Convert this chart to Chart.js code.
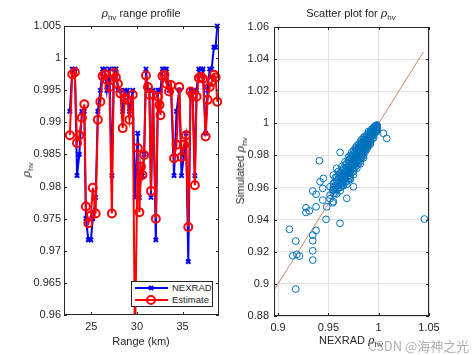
<!DOCTYPE html>
<html><head><meta charset="utf-8">
<script src="https://cdn.jsdelivr.net/npm/chart.js@4.4.1/dist/chart.umd.min.js"></script>
<style>
html,body{margin:0;padding:0;background:#fff;}
#wrap{position:relative;width:474px;height:355px;overflow:hidden;font-family:"Liberation Sans",Arial,sans-serif;color:#262626;}
.cv{position:absolute;top:0;width:237px;height:355px;}
.lbl{position:absolute;font-size:11px;white-space:nowrap;line-height:12px;}
.c{transform:translate(-50%,-50%);}
.r{transform:translate(-50%,-50%) rotate(-90deg);}
.g{font-style:italic;font-family:"DejaVu Serif","Liberation Serif",serif;}
sub{font-size:8px;vertical-align:baseline;position:relative;top:3px;}
#legend{position:absolute;left:131px;top:281px;width:80px;height:24px;border:1px solid #262626;background:#fff;}
#legend .lbl{font-size:9.5px;}
#wm{position:absolute;left:368px;top:336px;font-size:13px;color:rgba(160,160,160,0.85);font-family:"Noto Sans CJK SC","Liberation Sans",sans-serif;white-space:nowrap;}
</style></head>
<body>
<div id="wrap">
  <canvas id="c1" class="cv" style="left:0" width="237" height="355"></canvas>
  <canvas id="c2" class="cv" style="left:237px" width="237" height="355"></canvas>

  <div class="lbl c" style="left:141px;top:14px;"><span class="g">ρ</span><sub>hv</sub> range profile</div>
  <div class="lbl c" style="left:351px;top:14px;">Scatter plot for <span class="g">ρ</span><sub>hv</sub></div>
  <div class="lbl r" style="left:27px;top:170px;"><span class="g">ρ</span><sub>hv</sub></div>
  <div class="lbl r" style="left:241px;top:171px;">Simulated <span class="g">ρ</span><sub>hv</sub></div>
  <div class="lbl c" style="left:141px;top:341px;">Range (km)</div>
  <div class="lbl c" style="left:351px;top:341px;">NEXRAD <span class="g">ρ</span><sub>hv</sub></div>

  <div id="legend">
    <svg width="40" height="24" style="position:absolute;left:2px;top:0;">
      <line x1="1" y1="6" x2="34" y2="6" stroke="#0000FF" stroke-width="2"/>
      <path d="M15 4 L19 8 M19 4 L15 8" stroke="#0000FF" stroke-width="2"/>
      <line x1="1" y1="18" x2="34" y2="18" stroke="#FF0000" stroke-width="2"/>
      <circle cx="17" cy="18" r="4" fill="none" stroke="#FF0000" stroke-width="2"/>
    </svg>
    <div class="lbl" style="left:40px;top:0px;">NEXRAD</div>
    <div class="lbl" style="left:40px;top:12px;">Estimate</div>
  </div>
  <div id="wm">CSDN @海神之光</div>
</div>
<script>
// ---------- Range profile data ----------
const rangeKm = [22.64,22.91,23.19,23.43,23.68,23.96,24.23,24.40,24.67,24.95,25.16,25.47,25.71,25.99,26.24,26.48,26.70,26.98,27.25,27.47,27.69,27.91,28.19,28.44,28.68,28.96,29.18,29.54,29.78,30.09,30.27,30.44,30.60,30.79,30.99,31.21,31.37,31.54,31.76,32.07,32.31,32.47,32.58,32.80,33.02,33.24,33.52,33.74,34.07,34.34,34.64,34.89,35.16,35.38,35.63,35.88,36.10,36.35,36.54,36.79,37.03,37.25,37.53,37.75,37.97,38.19,38.44,38.63,38.81];
const nexradRho = [0.9917,0.9983,0.9983,0.9817,0.9850,0.9917,0.9917,0.9750,0.9717,0.9717,0.9750,0.9783,0.9917,0.9950,0.9983,0.9983,0.9950,0.9983,0.9817,0.9983,0.9983,0.9950,0.9950,0.9917,0.9950,0.9950,0.9917,0.9950,0.9783,0.9883,0.9783,0.9817,0.9817,0.9850,0.9983,0.9950,0.9950,0.9783,0.9950,0.9717,0.9950,0.9950,0.9950,0.9983,0.9983,0.9983,0.9950,0.9950,0.9817,0.9917,0.9950,0.9817,0.9850,0.9883,0.9683,0.9950,0.9950,0.9817,0.9950,0.9983,0.9983,0.9983,0.9883,0.9950,0.9983,0.9983,1.0017,1.0017,1.0050];
const estimateRho = [0.9880,0.9975,0.9978,0.9868,0.9880,0.9907,0.9928,0.9769,0.9743,0.9755,0.9798,0.9758,0.9904,0.9932,0.9972,0.9975,0.9966,0.9955,0.9758,0.9977,0.9970,0.9960,0.9945,0.9891,0.9938,0.9935,0.9904,0.9943,0.9550,0.9860,0.9760,0.9831,0.9818,0.9849,0.9973,0.9955,0.9943,0.9793,0.9943,0.9750,0.9940,0.9927,0.9911,0.9972,0.9974,0.9960,0.9948,0.9958,0.9844,0.9865,0.9955,0.9846,0.9865,0.9880,0.9737,0.9948,0.9943,0.9802,0.9940,0.9969,0.9971,0.9968,0.9878,0.9935,0.9955,0.9963,0.9974,0.9970,0.9932];
const profileXTicks = [25,30,35];
const profileYTicks = [0.96,0.965,0.97,0.975,0.98,0.985,0.99,0.995,1,1.005];

// ---------- Scatter data (NEXRAD rho_hv vs simulated rho_hv) ----------
const scatterNexrad = [
0.9983,0.9983,0.9983,0.9983,0.9983,0.9983,0.9983,0.9983,0.9983,
0.995,0.995,0.995,0.995,0.995,0.995,0.995,0.995,0.995,0.995,0.995,0.995,
0.9917,0.9917,0.9917,0.9917,0.9917,0.9917,0.9917,0.9917,0.9917,0.9917,0.9917,0.9917,0.9917,
0.9883,0.9883,0.9883,0.9883,0.9883,0.9883,0.9883,0.9883,0.9883,0.9883,0.9883,
0.985,0.985,0.985,0.985,0.985,0.985,0.985,0.985,0.985,0.985,0.985,0.985,0.985,
0.9817,0.9817,0.9817,0.9817,0.9817,0.9817,0.9817,0.9817,0.9817,0.9817,0.9817,0.9817,
0.9783,0.9783,0.9783,0.9783,0.9783,0.9783,0.9783,0.9783,0.9783,0.9783,0.9783,
0.975,0.975,0.975,0.975,0.975,0.975,0.975,0.975,0.975,0.975,0.975,
0.9717,0.9717,0.9717,0.9717,0.9717,0.9717,0.9717,0.9717,0.9717,0.9717,
0.9683,0.9683,0.9683,0.9683,0.9683,0.9683,0.9683,0.9683,
0.965,0.965,0.965,0.965,0.965,0.965,0.965,
0.9617,0.9617,0.9617,0.9617,0.9617,0.9617,0.9617,
0.9583,0.9583,0.9583,0.9583,0.9583,0.9583,
0.955,0.955,0.955,0.955,0.955,0.955,
0.9517,0.9517,0.9517,
0.9967,0.9967,0.9967,0.9967,
0.9933,0.9933,0.9933,0.9933,0.9933,0.9933,
0.99,0.99,0.99,0.99,0.99,0.99,0.99,0.99,
0.9867,0.9867,0.9867,0.9867,0.9867,0.9867,0.9867,0.9867,
0.9833,0.9833,0.9833,0.9833,0.9833,0.9833,0.9833,0.9833,0.9833,
0.98,0.98,0.98,0.98,0.98,0.98,0.98,0.98,0.98,
0.9767,0.9767,0.9767,0.9767,0.9767,0.9767,0.9767,0.9767,
0.9733,0.9733,0.9733,0.9733,0.9733,0.9733,0.9733,0.9733,
0.97,0.97,0.97,0.97,0.97,0.97,0.97,0.97,
0.9667,0.9667,0.9667,0.9667,0.9667,0.9667,0.9667,
0.9633,0.9633,0.9633,0.9633,0.9633,0.9633,
0.96,0.96,0.96,0.96,0.96,
0.9567,0.9567,0.9567,0.9567,
1.0047,1.008,0.9411,0.9113,0.9176,0.9146,0.9186,0.9212,0.9176,
0.9278,0.9311,0.9278,0.9345,0.9378,0.9378,0.9345,0.9378,0.9345,0.9345,0.9345,
0.9477,0.9616,1.0454,0.9444,0.9418,0.945,0.9444,0.9484,0.9544,0.9567,
0.9749,0.9649,0.9666,0.9716,0.9543];
const scatterSimulated = [
0.9985,0.9978,0.9972,0.9965,0.9958,0.9990,0.9950,0.9968,0.9980,
0.9975,0.9962,0.9955,0.9948,0.9940,0.9932,0.9925,0.9968,0.9944,0.9910,0.9952,0.9936,
0.9950,0.9938,0.9928,0.9920,0.9912,0.9905,0.9895,0.9882,0.9870,0.9932,0.9901,0.9915,0.9888,
0.9925,0.9910,0.9898,0.9885,0.9878,0.9866,0.9852,0.9840,0.9860,0.9890,0.9872,
0.9898,0.9880,0.9862,0.9850,0.9838,0.9826,0.9815,0.9800,0.9845,0.9870,0.9832,0.9912,0.9785,
0.9870,0.9850,0.9835,0.9820,0.9808,0.9795,0.9780,0.9765,0.9818,0.9842,0.9885,0.9748,
0.9842,0.9820,0.9800,0.9785,0.9770,0.9758,0.9740,0.9795,0.9760,0.9860,0.9720,
0.9810,0.9790,0.9770,0.9752,0.9738,0.9720,0.9700,0.9760,0.9745,0.9830,0.9680,
0.9780,0.9760,0.9740,0.9722,0.9705,0.9690,0.9670,0.9730,0.9800,0.9650,
0.9750,0.9725,0.9700,0.9683,0.9665,0.9640,0.9620,0.9533,
0.9720,0.9695,0.9672,0.9650,0.9630,0.9612,0.9660,
0.9690,0.9665,0.9640,0.9620,0.9600,0.9580,0.9819,
0.9720,0.9640,0.9610,0.9585,0.9560,0.9667,
0.9678,0.9626,0.9584,0.9564,0.9512,0.9600,
0.9553,0.9605,0.9530,
0.9975,0.9960,0.9985,0.9945,
0.9965,0.9950,0.9935,0.9918,0.9900,0.9942,
0.9950,0.9935,0.9920,0.9905,0.9890,0.9875,0.9860,0.9912,
0.9920,0.9900,0.9885,0.9870,0.9855,0.9840,0.9825,0.9895,
0.9900,0.9880,0.9860,0.9845,0.9830,0.9815,0.9800,0.9785,0.9870,
0.9870,0.9850,0.9830,0.9815,0.9800,0.9785,0.9770,0.9750,0.9840,
0.9845,0.9825,0.9805,0.9790,0.9775,0.9760,0.9745,0.9725,
0.9820,0.9800,0.9780,0.9765,0.9750,0.9735,0.9715,0.9695,
0.9790,0.9770,0.9750,0.9730,0.9712,0.9695,0.9675,0.9655,
0.9760,0.9740,0.9715,0.9695,0.9675,0.9655,0.9635,
0.9730,0.9705,0.9680,0.9655,0.9630,0.9610,
0.9700,0.9675,0.9650,0.9625,0.9600,
0.9660,0.9635,0.9610,0.9590,
0.9938,0.9906,0.9767,0.9340,0.9267,0.9175,0.9184,0.9173,0.8968,
0.9445,0.9455,0.9474,0.9578,0.9558,0.9480,0.9304,0.9333,0.9269,0.9206,0.9148,
0.9402,0.9377,0.9404,0.9595,0.9636,0.9657,0.9522,0.9480,0.9584,0.9564,
0.9605,0.9616,0.9678,0.9657,0.9505];
const oneToOneLine = [0.8968, 1.0445];
const scatterXTicks = [0.9,0.95,1,1.05];
const scatterYTicks = [0.88,0.9,0.92,0.94,0.96,0.98,1,1.02,1.04,1.06];

const FONT = {family:'"Liberation Sans", Arial, sans-serif', size:11};
const TICK_COLOR = '#262626';
const fmt = v => String(+Number(v).toFixed(4));
const setTicks = arr => (scale) => { scale.ticks = arr.map(v => ({value:v})); };

const boxPlugin = {
  id:'matlabBox',
  afterDraw(chart){
    const {ctx, chartArea:a, scales} = chart;
    ctx.save();
    ctx.strokeStyle = '#262626'; ctx.lineWidth = 1;
    ctx.strokeRect(a.left+0.5, a.top+0.5, a.right-a.left-1, a.bottom-a.top-1);
    const L = 3;
    ctx.beginPath();
    scales.x.ticks.forEach(t => {
      const p = Math.round(scales.x.getPixelForValue(t.value))+0.5;
      ctx.moveTo(p, a.bottom); ctx.lineTo(p, a.bottom-L);
      ctx.moveTo(p, a.top); ctx.lineTo(p, a.top+L);
    });
    scales.y.ticks.forEach(t => {
      const p = Math.round(scales.y.getPixelForValue(t.value))+0.5;
      ctx.moveTo(a.left, p); ctx.lineTo(a.left+L, p);
      ctx.moveTo(a.right, p); ctx.lineTo(a.right-L, p);
    });
    ctx.stroke();
    ctx.restore();
  }
};

new Chart(document.getElementById('c1'), {
  type:'line',
  data:{
    datasets:[
      {label:'NEXRAD', data: rangeKm.map((x,i)=>({x, y:nexradRho[i]})),
       borderColor:'#0000FF', backgroundColor:'#0000FF', borderWidth:2,
       pointStyle:'crossRot', pointRadius:3, pointBorderWidth:2, pointBorderColor:'#0000FF',
       tension:0, order:2, clip:{left:0,top:6,right:6,bottom:0}},
      {label:'Estimate', data: rangeKm.map((x,i)=>({x, y:estimateRho[i]})),
       borderColor:'#FF0000', backgroundColor:'rgba(0,0,0,0)', borderWidth:2,
       pointStyle:'circle', pointRadius:4, pointBorderWidth:2, pointBorderColor:'#FF0000',
       pointBackgroundColor:'rgba(0,0,0,0)',
       tension:0, order:1, clip:{left:0,top:6,right:6,bottom:0}}
    ]
  },
  options:{
    responsive:false, animation:false, devicePixelRatio:1,
    layout:{padding:{top:26,right:18,left:0,bottom:0}},
    plugins:{legend:{display:false}, tooltip:{enabled:false}, title:{display:false}},
    scales:{
      x:{type:'linear', min:22, max:39, afterBuildTicks:setTicks(profileXTicks),
         afterFit(s){s.height=40;},
         grid:{display:false, drawTicks:false}, border:{display:false},
         ticks:{font:FONT, color:TICK_COLOR, padding:5, maxRotation:0, callback:fmt}},
      y:{type:'linear', min:0.96, max:1.005, afterBuildTicks:setTicks(profileYTicks),
         afterFit(s){s.width=64;},
         grid:{display:false, drawTicks:false}, border:{display:false},
         ticks:{font:FONT, color:TICK_COLOR, padding:3, callback:fmt}}
    }
  },
  plugins:[boxPlugin]
});

new Chart(document.getElementById('c2'), {
  type:'scatter',
  data:{
    datasets:[
      {type:'line', label:'fit', data: oneToOneLine.map(v=>({x:v,y:v})),
       borderColor:'rgba(205,120,90,0.9)', borderWidth:1, pointRadius:0, order:2},
      {label:'points', data: scatterNexrad.map((x,i)=>({x, y:scatterSimulated[i]})),
       borderColor:'#0072BD', backgroundColor:'rgba(0,0,0,0)', pointRadius:3.4,
       pointBorderWidth:1, pointStyle:'circle', order:1}
    ]
  },
  options:{
    responsive:false, animation:false, devicePixelRatio:1,
    layout:{padding:{top:27,right:45,left:0,bottom:0}},
    plugins:{legend:{display:false}, tooltip:{enabled:false}, title:{display:false}},
    scales:{
      x:{type:'linear', min:0.896, max:1.05, afterBuildTicks:setTicks(scatterXTicks),
         afterFit(s){s.height=39;},
         grid:{display:true, color:'#e3e3e3', drawTicks:false}, border:{display:false},
         ticks:{font:FONT, color:TICK_COLOR, padding:5, maxRotation:0, callback:fmt}},
      y:{type:'linear', min:0.88, max:1.06, afterBuildTicks:setTicks(scatterYTicks),
         afterFit(s){s.width=37;},
         grid:{display:true, color:'#e3e3e3', drawTicks:false}, border:{display:false},
         ticks:{font:FONT, color:TICK_COLOR, padding:5, callback:fmt}}
    }
  },
  plugins:[boxPlugin]
});
</script>
</body></html>
